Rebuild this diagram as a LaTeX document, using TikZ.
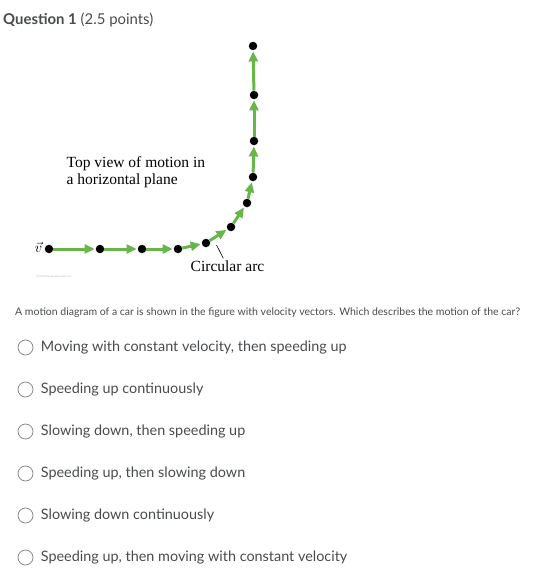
\documentclass[tikz,border=0pt]{standalone}
\usepackage{amsmath}
\usepackage{fontspec}
\setmainfont{Lato}
\newfontfamily\figfont{Liberation Serif}
\usetikzlibrary{arrows.meta}

\definecolor{velgreen}{RGB}{104,182,74}
\definecolor{uitext}{RGB}{73,76,78}
\definecolor{radioedge}{RGB}{140,140,140}

\tikzset{
  dot/.style={circle,fill=black,inner sep=0pt,minimum size=8.5pt},
  vel/.style={velgreen,line width=3pt,-{Triangle[length=10pt,width=9pt]},shorten >=1pt},
  radio/.style={circle,draw=radioedge,line width=0.8pt,fill=white,minimum size=15pt,inner sep=0pt},
  answer/.style={anchor=west,text=uitext,font=\fontsize{14.4}{16}\selectfont,inner sep=0pt},
  figtext/.style={font=\figfont\fontsize{15.5}{16.6}\selectfont,align=left,inner sep=0pt}
}

\begin{document}
\begin{tikzpicture}[x=1pt,y=-1pt]
    \useasboundingbox[fill=white] (0,0) rectangle (533,578);

    \node[anchor=west,text=uitext,font=\fontsize{14.9}{17}\selectfont,inner sep=0pt] (title) at (3,20) {\textbf{Question 1} (2.5 points)};

    % motion diagram
    \foreach \n/\x/\y in {1/49/249, 2/100/249, 3/142/249, 4/178/249, 5/206/243, 6/231/227,
                          7/247/203, 8/253/177, 9/254/141, 10/254/95, 11/253/46}
        \node[dot] (d\n) at (\x,\y) {};
    \foreach \a/\b in {1/2, 2/3, 3/4, 4/5, 5/6, 6/7, 7/8, 8/9, 9/10, 10/11}
        \draw[vel] (d\a) -- (d\b);

    \node[figtext,anchor=north west] (plane) at (66.5,156.5) {Top view of motion in\\a horizontal plane};
    \node[inner sep=0pt,font=\fontsize{15}{17}\selectfont] (vlabel) at (38.5,247) {$\vec{v}$};
    \node[figtext,anchor=base] (arc) at (227.5,271.7) {Circular arc};
    \coordinate (arcpt) at (216.5,245);
    \draw[line width=0.6pt] (arcpt) -- (223.3,258.3);
    \node[text=gray!60,font=\fontsize{2.6}{3}\selectfont,inner sep=0pt] (credit) at (54,277) {\copyright2013 Pearson Education, Inc.};

    % question and answers
    \node[anchor=west,text=uitext,font=\fontsize{10.5}{12}\selectfont,inner sep=0pt] (prompt) at (15,313)
        {A motion diagram of a car is shown in the figure with velocity vectors. Which describes the motion of the car?};
    \foreach \i/\y/\txt in {1/347.5/{Moving with constant velocity, then speeding up},
                            2/389.5/{Speeding up continuously},
                            3/431.5/{Slowing down, then speeding up},
                            4/473.5/{Speeding up, then slowing down},
                            5/515.5/{Slowing down continuously},
                            6/557.5/{Speeding up, then moving with constant velocity}} {
        \node[radio] (r\i) at (25.5,\y) {};
        \node[answer] (a\i) at (40.7,\y) {\txt};
    }
\end{tikzpicture}
\end{document}
